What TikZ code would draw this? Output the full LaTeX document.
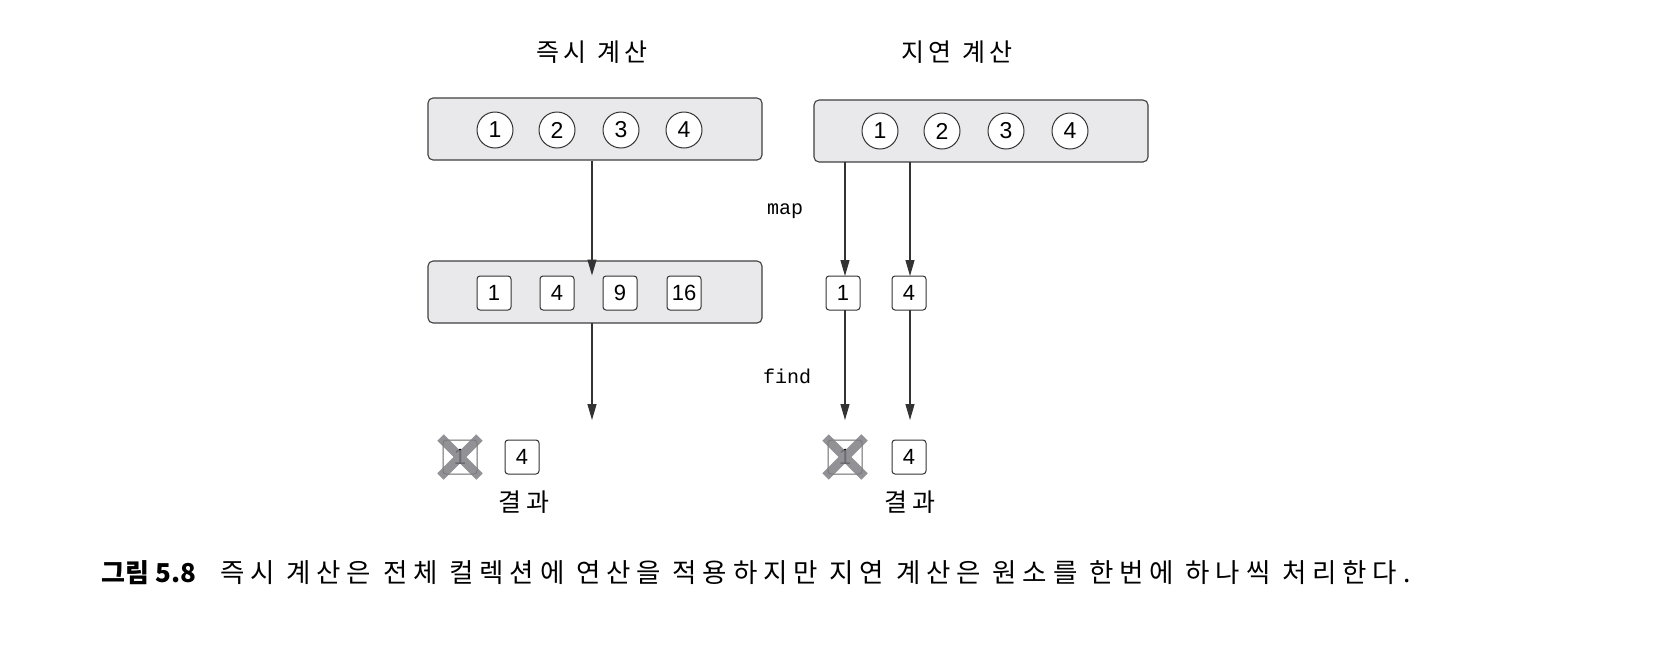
\documentclass[tikz,border=0pt]{standalone}
\usepackage{fontspec}
\setmainfont{Noto Sans CJK KR}
\newfontfamily\spfont[LetterSpace=18]{Noto Sans CJK KR}
\newfontfamily\capfont[LetterSpace=22]{Noto Sans CJK KR}
\newfontfamily\numfont{Liberation Sans}
\setmonofont{Liberation Mono}
\usetikzlibrary{arrows.meta}
\definecolor{boxfill}{HTML}{E9E9EC}
\definecolor{xgray}{HTML}{7E7E84}
\tikzset{
  x=1pt,y=-1pt,
  panel/.style={draw=black!75,line width=1.1pt,rounded corners=5pt,fill=boxfill,minimum width=334pt,minimum height=62pt},
  circ/.style={circle,draw=black!80,line width=1pt,fill=white,minimum size=36pt,inner sep=0pt,font=\numfont\fontsize{23}{23}\selectfont},
  sq/.style={draw=black!80,line width=1pt,fill=white,rounded corners=3pt,minimum size=34pt,inner sep=0pt,font=\numfont\fontsize{22}{22}\selectfont},
  arr/.style={draw=black!80,line width=1.2pt,-{Triangle[length=16pt,width=9pt]}},
  ttl/.style={font=\spfont\fontsize{25}{25}\selectfont},
  lbl/.style={font=\ttfamily\fontsize{20}{20}\selectfont},
}
\begin{document}
\begin{tikzpicture}
\useasboundingbox (0,0) rectangle (1668,654);
\fill[white] (0,0) rectangle (1668,654);
\node[ttl] (t1) at (592,52) {즉시 계산};
\node[ttl] (t2) at (957,52) {지연 계산};
\node[panel] (b1) at (595,129) {};
\node[panel] (b2) at (981,131) {};
\node[panel] (b3) at (595,292) {};
\foreach \x/\n in {495/1,557/2,621/3,684/4}{\node[circ] (ea\n) at (\x,130) {\n};}
\foreach \x/\n in {880/1,942/2,1006/3,1070/4}{\node[circ] (la\n) at (\x,131) {\n};}
\foreach \x/\n/\t in {494/1/1,557/2/4,620/3/9,684/4/16}{\node[sq] (es\n) at (\x,293) {\t};}
\coordinate (e1) at (592,420);
\draw[arr] (592,160.5) -- (es2.north -| 592,0);
\draw[arr] (592,323) -- (e1);
\node[sq] (ls1) at (843,293) {1};
\node[sq] (ls2) at (909,293) {4};
\draw[arr] (845,162) -- (845,276);
\draw[arr] (910,162) -- (910,276);
\draw[arr] (845,310) -- (845,420);
\draw[arr] (910,310) -- (910,420);
\node[lbl] (map) at (785,211) {map};
\node[lbl] (find) at (787,376) {find};
% results
\node[sq,draw=black!60] (ex) at (460,457) {1};
\draw[xgray,line width=9pt,opacity=.85] ([shift={(-2,-2)}]ex.north west) -- ([shift={(2,2)}]ex.south east) ([shift={(2,-2)}]ex.north east) -- ([shift={(-2,2)}]ex.south west);
\node[sq] (e4) at (522,457) {4};
\node[ttl] (r1) at (524,502) {결과};
\node[sq,draw=black!60] (lx) at (845,457) {1};
\draw[xgray,line width=9pt,opacity=.85] ([shift={(-2,-2)}]lx.north west) -- ([shift={(2,2)}]lx.south east) ([shift={(2,-2)}]lx.north east) -- ([shift={(-2,2)}]lx.south west);
\node[sq] (l4) at (909,457) {4};
\node[ttl] (r2) at (910,502) {결과};
\node[anchor=west,font=\fontsize{26}{26}\selectfont] (cap) at (98,573) {\textbf{그림 5.8}\hspace{24pt}{\capfont\fontsize{26.5}{26.5}\selectfont 즉시 계산은 전체 컬렉션에 연산을 적용하지만 지연 계산은 원소를 한번에 하나씩 처리한다.}};
\end{tikzpicture}
\end{document}
